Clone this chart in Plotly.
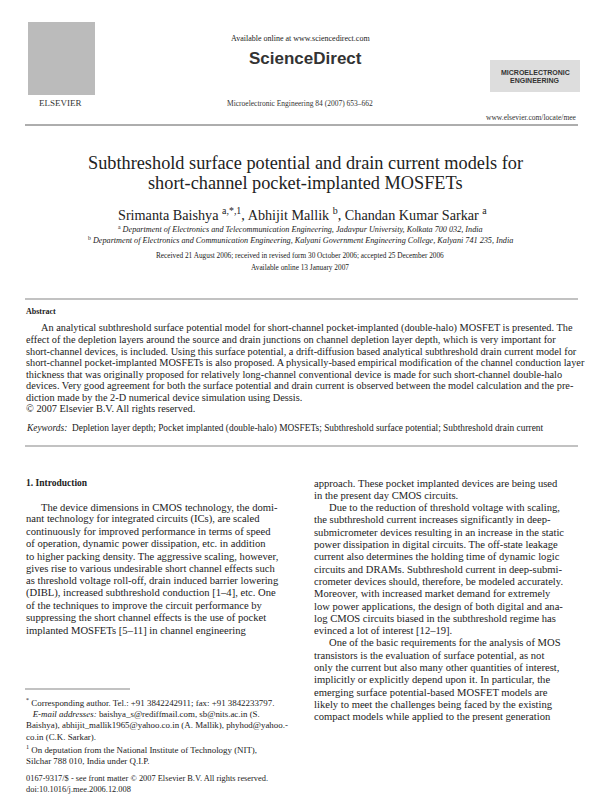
import plotly.graph_objects as go

SERIF = "Liberation Serif"

title_lines = ["Subthreshold surface potential and drain current models for",
               "short-channel pocket-implanted MOSFETs"]
authors = "Srimanta Baishya <sup>a,*,1</sup>, Abhijit Mallik <sup>b</sup>, Chandan Kumar Sarkar <sup>a</sup>"
affiliations = [
    "<sup>a</sup> <i>Department of Electronics and Telecommunication Engineering, Jadavpur University, Kolkata 700 032, India</i>",
    "<sup>b</sup> <i>Department of Electronics and Communication Engineering, Kalyani Government Engineering College, Kalyani 741 235, India</i>",
]
dates = ["Received 21 August 2006; received in revised form 30 October 2006; accepted 25 December 2006",
         "Available online 13 January 2007"]
abstract_lines = [
    "An analytical subthreshold surface potential model for short-channel pocket-implanted (double-halo) MOSFET is presented. The",
    "effect of the depletion layers around the source and drain junctions on channel depletion layer depth, which is very important for",
    "short-channel devices, is included. Using this surface potential, a drift-diffusion based analytical subthreshold drain current model for",
    "short-channel pocket-implanted MOSFETs is also proposed. A physically-based empirical modification of the channel conduction layer",
    "thickness that was originally proposed for relatively long-channel conventional device is made for such short-channel double-halo",
    "devices. Very good agreement for both the surface potential and drain current is observed between the model calculation and the pre-",
    "diction made by the 2-D numerical device simulation using Dessis.",
    "© 2007 Elsevier B.V. All rights reserved.",
]
keywords = ("<i>Keywords:</i>  Depletion layer depth; Pocket implanted (double-halo) MOSFETs; "
            "Subthreshold surface potential; Subthreshold drain current")
left_col = [
    "The device dimensions in CMOS technology, the domi-",
    "nant technology for integrated circuits (ICs), are scaled",
    "continuously for improved performance in terms of speed",
    "of operation, dynamic power dissipation, etc. in addition",
    "to higher packing density. The aggressive scaling, however,",
    "gives rise to various undesirable short channel effects such",
    "as threshold voltage roll-off, drain induced barrier lowering",
    "(DIBL), increased subthreshold conduction [1–4], etc. One",
    "of the techniques to improve the circuit performance by",
    "suppressing the short channel effects is the use of pocket",
    "implanted MOSFETs [5–11] in channel engineering",
]
right_col = [
    "approach. These pocket implanted devices are being used",
    "in the present day CMOS circuits.",
    "Due to the reduction of threshold voltage with scaling,",
    "the subthreshold current increases significantly in deep-",
    "submicrometer devices resulting in an increase in the static",
    "power dissipation in digital circuits. The off-state leakage",
    "current also determines the holding time of dynamic logic",
    "circuits and DRAMs. Subthreshold current in deep-submi-",
    "crometer devices should, therefore, be modeled accurately.",
    "Moreover, with increased market demand for extremely",
    "low power applications, the design of both digital and ana-",
    "log CMOS circuits biased in the subthreshold regime has",
    "evinced a lot of interest [12–19].",
    "One of the basic requirements for the analysis of MOS",
    "transistors is the evaluation of surface potential, as not",
    "only the current but also many other quantities of interest,",
    "implicitly or explicitly depend upon it. In particular, the",
    "emerging surface potential-based MOSFET models are",
    "likely to meet the challenges being faced by the existing",
    "compact models while applied to the present generation",
]
right_indent = [2, 13]
footnotes = [
    "<sup>*</sup> Corresponding author. Tel.: +91 3842242911; fax: +91 3842233797.",
    "   <i>E-mail addresses:</i> baishya_s@rediffmail.com, sb@nits.ac.in (S.",
    "Baishya), abhijit_mallik1965@yahoo.co.in (A. Mallik), phyhod@yahoo.-",
    "co.in (C.K. Sarkar).",
    "<sup>1</sup> On deputation from the National Institute of Technology (NIT),",
    "Silchar 788 010, India under Q.I.P.",
]
bottom = ["0167-9317/$ - see front matter © 2007 Elsevier B.V. All rights reserved.",
          "doi:10.1016/j.mee.2006.12.008"]

fig = go.Figure()
ann = []


def txt(x, y, s, size, anchor="left", color="#222", family=SERIF):
    ann.append(dict(x=x, y=y, text=s, showarrow=False, xanchor=anchor, yanchor="middle",
                    borderpad=0, font=dict(family=family, size=size, color=color)))


# header
txt(300, 38, "Available online at www.sciencedirect.com", 8, "center")
txt(305, 58, "<b>ScienceDirect</b>", 17, "center", "#333", "Liberation Sans")
txt(60, 103, "ELSEVIER", 9, "center", "#333")
txt(300, 103, "Microelectronic Engineering 84 (2007) 653–662", 7.5, "center", "#333")
txt(535, 72, "<b>MICROELECTRONIC</b>", 7, "center", "#333", "Liberation Sans")
txt(535, 80, "<b>ENGINEERING</b>", 7, "center", "#333", "Liberation Sans")
txt(578, 117, "www.elsevier.com/locate/mee", 7.5, "right", "#333")
for i, s in enumerate(title_lines):
    txt(305, 163 + i * 20, s, 18.3, "center")
txt(302, 214, authors, 14.2, "center")
for i, s in enumerate(affiliations):
    txt(300, 229 + i * 11, s, 8.2, "center")
for i, s in enumerate(dates):
    txt(300, 255 + i * 12, s, 7.3, "center")
txt(25, 311, "<b>Abstract</b>", 8)
for i, s in enumerate(abstract_lines):
    txt(40 if i == 0 else 25, 328 + i * 11.5, s, 10.3)
txt(25, 428, keywords, 9.4)
txt(25, 483, "<b>1. Introduction</b>", 9.5)
for i, s in enumerate(left_col):
    txt(40 if i == 0 else 25, 507 + i * 12.3, s, 10.6)
for i, s in enumerate(right_col):
    txt(328 if i in right_indent else 313, 483 + i * 12.3, s, 10.6)
for i, s in enumerate(footnotes):
    txt(25, 702 + i * 11.7, s, 8.9)
for i, s in enumerate(bottom):
    txt(25, 778 + i * 11, s, 8.4)

shapes = [
    dict(type="rect", x0=28, y0=22, x1=95, y1=95, fillcolor="#bbb", line=dict(width=0)),
    dict(type="rect", x0=490, y0=60, x1=580, y1=92, fillcolor="#ddd", line=dict(width=0), layer="below"),
    dict(type="line", x0=25, x1=578, y0=125, y1=125, line=dict(color="#333", width=0.8)),
    dict(type="line", x0=25, x1=578, y0=299, y1=299, line=dict(color="#333", width=0.6)),
    dict(type="line", x0=25, x1=578, y0=446, y1=446, line=dict(color="#333", width=0.6)),
    dict(type="line", x0=25, x1=130, y0=689, y1=689, line=dict(color="#333", width=0.6)),
]

# page body has an 8px margin, so the figure is shifted by 8px in both directions
fig.update_layout(width=579, height=786, margin=dict(l=0, r=0, t=0, b=0),
                  paper_bgcolor="white", plot_bgcolor="white",
                  annotations=ann, shapes=shapes, showlegend=False)
fig.update_xaxes(range=[8, 587], visible=False, fixedrange=True)
fig.update_yaxes(range=[794, 8], visible=False, fixedrange=True)
fig.write_html("out.html")
